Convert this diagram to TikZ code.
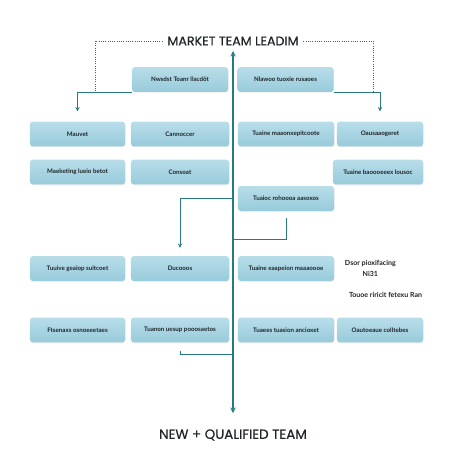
\documentclass[tikz,border=0pt]{standalone}
\usepackage{fontspec}
\setmainfont{Lato}
\newfontfamily\titlefont{Poppins}[FakeBold=0.5]
\usetikzlibrary{shadows}
\definecolor{boxtop}{RGB}{184,221,233}
\definecolor{boxbot}{RGB}{152,203,219}
\definecolor{linkteal}{RGB}{38,122,128}
\definecolor{inkdark}{RGB}{30,36,40}

\begin{document}
\begin{tikzpicture}[x=0.025cm, y=-0.025cm, >=stealth]
        \useasboundingbox[fill=white] (0,0) rectangle (474,474);
        \begin{scope}[every node/.style={rounded corners=2pt, top color=boxtop, bottom color=boxbot, minimum width=2.4cm, minimum height=0.62cm, inner sep=1pt, text=inkdark, font=\fontsize{4.4}{5}\selectfont\bfseries, drop shadow={opacity=0.15, shadow xshift=0.4pt, shadow yshift=-0.6pt}}]
            \node (t1) at (180, 79.5) {Nwsdst Toanr llacdôt};
            \node (t2) at (285.5, 79.5) {Nlawoo tuoxie rusaoes};
            \node[minimum width=2.375cm] (a1) at (77.5, 134) {Mauvet};
            \node[minimum width=2.45cm] (b1) at (180, 134) {Cannoccer};
            \node (c1) at (286, 134) {Tuaine maaonxepitcoote};
            \node[minimum width=2.15cm] (d1) at (380, 134) {Oausaaogeret};
            \node[minimum width=2.375cm] (a2) at (77.5, 172) {Maeketing lueio betot};
            \node[minimum width=2.45cm] (b2) at (180, 172) {Consoat};
            \node[minimum width=2.25cm] (d2) at (378, 172) {Tuaine baoooeeex lousoc};
            \node (c3) at (286, 198.5) {Tuaioc rohoooa aasoxos};
            \node[minimum width=2.375cm] (a4) at (77.5, 268.5) {Tuuive geaiop suitcoet};
            \node[minimum width=2.45cm] (b4) at (180, 268.5) {Ducooos};
            \node (c4) at (286, 268.5) {Tuaine eaapeion maaaoooe};
            \node[minimum width=2.375cm] (a5) at (77.5, 330) {Ftsenaxs osnoeeetaes};
            \node[minimum width=2.45cm] (b5) at (180, 330) {Tuanon uesup pooosaetos};
            \node (c5) at (286, 330) {Tuaees tuasion ancioxet};
            \node[minimum width=2.15cm] (d5) at (380, 330) {Oautoeaue colltebes};
        \end{scope}

        \node[font=\titlefont\fontsize{9}{10}\selectfont, text=inkdark] (title) at (233, 41) {MARKET TEAM LEADIM};
        \node[font=\titlefont\fontsize{9.5}{10}\selectfont, text=inkdark] (team) at (233, 435) {NEW + QUALIFIED TEAM};
        \node[anchor=west, align=center, font=\fontsize{5}{7.8}\selectfont\bfseries, text=inkdark] (s1) at (340, 268) {Dsor pioxifacing\\Ni31};
        \node[anchor=east, font=\fontsize{5}{6}\selectfont\bfseries, text=inkdark] (s2) at (427, 295) {Touoe riricit fetexu Ran};

        \coordinate (top) at (233, 51);
        \coordinate (bot) at (233, 413);
        \coordinate (dl) at (95, 92);
        \coordinate (dr) at (373, 92);
        \coordinate (j1) at (233, 239);
        \coordinate (j2) at (233, 354);

        \draw[densely dotted, line width=0.6pt, inkdark!75] (title.west) -| (dl);
        \draw[densely dotted, line width=0.6pt, inkdark!75] (title.east) -| (dr);
        \draw[<->, line width=0.75pt, linkteal] (top) -- (bot);
        \draw[->, linkteal, shorten >=0.25cm] (t1.south west) -| (a1.north);
        \draw[->, linkteal, shorten >=0.25cm] (t2.south east) -| (d1.north);
        \draw[->, linkteal, shorten >=0.2cm] (c3.west -| top) -| (b4.north);
        \draw[linkteal, shorten <=0.17cm] (c3.south) |- (j1);
        \draw[linkteal, shorten <=0.2cm] (b5.south) |- (j2);
    \end{tikzpicture}
\end{document}
